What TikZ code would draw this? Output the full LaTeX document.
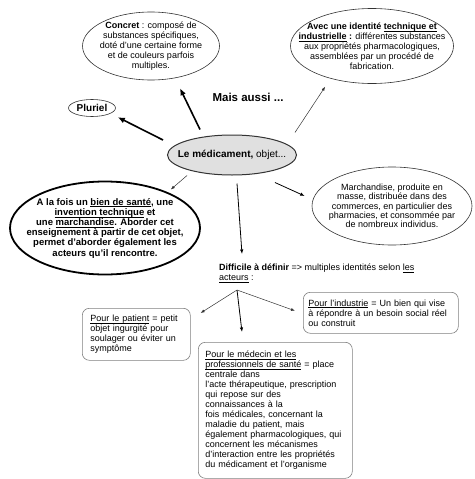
\documentclass[tikz,border=0pt]{standalone}
\usepackage{fontspec}
\setmainfont{Liberation Sans}
\usetikzlibrary{shapes.geometric, arrows.meta, positioning}
\newcommand\souligne[1]{\leavevmode\setbox0=\hbox{#1}\rlap{\rule[-1.8pt]{\wd0}{0.5pt}}\box0\relax}

\begin{document}
\begin{tikzpicture}[x=1pt, y=-1pt,
    every node/.style={font=\fontsize{9}{10}\selectfont},
    bulle/.style={ellipse, draw=black!80, line width=0.6pt, align=center, inner xsep=-30pt, inner ysep=-10pt},
    cadre/.style={rectangle, rounded corners=7pt, draw=black!50, line width=0.6pt, align=left, anchor=north west},
    grosse/.style={line width=1.6pt, -{Latex[length=7pt,width=6pt]}},
    fine/.style={line width=0.5pt, draw=black!80, -{Latex[length=4pt,width=3pt]}},
    moyenne/.style={line width=0.8pt, -{Latex[length=4.5pt,width=3.5pt]}}]
        \useasboundingbox (0,0) rectangle (474,479);
        \node[bulle, minimum width=137pt, minimum height=68pt] (concret) at (151,46)
            {\textbf{Concret} : composé de\\ substances spécifiques,\\ doté d'une certaine forme\\ et de couleurs parfois\\ multiples.};
        \node[bulle, minimum width=163pt, minimum height=75pt] (technique) at (372,46)
            {\textbf{Avec une identité \souligne{technique et}}\\ \textbf{\souligne{industrielle} :} différentes substances\\ aux propriétés pharmacologiques,\\ assemblées par un procédé de\\ fabrication.};
        \node[bulle, minimum width=47pt, minimum height=17pt, font=\fontsize{10}{12}\selectfont\bfseries] (pluriel) at (92,108) {Pluriel};
        \node[font=\fontsize{11.5}{13}\selectfont\bfseries] (mais) at (248,97) {Mais aussi ...};
        \node[bulle, fill=black!12, line width=1pt, minimum width=129pt, minimum height=40pt, font=\fontsize{10}{12}\selectfont] (med) at (232,155)
            {\textbf{Le médicament,} objet...};
        \node[bulle, draw=black, line width=1.8pt, minimum width=190pt, minimum height=93pt, font=\fontsize{9.5}{10.2}\selectfont\bfseries] (alafois) at (105,228)
            {A la fois un \souligne{bien de santé}, une\\ \souligne{invention technique} et\\ une \souligne{marchandise}. Aborder cet\\ enseignement à partir de cet objet,\\ permet d’aborder également les\\ acteurs qu’il rencontre.};
        \node[bulle, minimum width=160pt, minimum height=78pt, font=\fontsize{9}{9.3}\selectfont] (marchandise) at (392,206)
            {Marchandise, produite en\\ masse, distribuée dans des\\ commerces, en particulier des\\ pharmacies, et consommée par\\ de nombreux individus.};
        \node[anchor=north west, inner sep=0pt, align=left] (difficile) at (219,264)
            {\textbf{Difficile à définir} => multiples identités selon \souligne{les}\\ \souligne{acteurs} :};
        \coordinate (split) at ([shift={(18,26)}]difficile.north west);
        \node[cadre, minimum width=108pt, minimum height=52pt, text width=92pt, inner xsep=8pt] (patient) at (82,308)
            {\souligne{Pour le patient} = petit\\ objet ingurgité pour\\ soulager ou éviter un\\ symptôme};
        \node[cadre, minimum width=155pt, minimum height=41pt, text width=145pt, inner xsep=5pt] (industrie) at (303,292)
            {\souligne{Pour l'industrie} = Un bien qui vise\\ à répondre à un besoin social réel\\ ou construit};
        \node[cadre, minimum width=154pt, minimum height=136pt, text width=140pt, inner xsep=7pt] (medecin) at (198,342)
            {\souligne{Pour le médecin et les}\\ \souligne{professionnels de santé} = place\\ centrale dans\\ l'acte thérapeutique, prescription\\ qui repose sur des\\ connaissances à la\\ fois médicales, concernant la\\ maladie du patient, mais\\ également pharmacologiques, qui\\ concernent les mécanismes\\ d'interaction entre les propriétés\\ du médicament et l'organisme};
        \draw[grosse] ([shift={(-32,-5)}]med.north) -- ([shift={(29,8)}]concret.south);
        \draw[grosse] ([shift={(-4,-15)}]med.west) -- ([shift={(9,3)}]pluriel.south east);
        \draw[fine] ([shift={(17,-8)}]med.north east) -- ([shift={(11,14)}]technique.south west);
        \draw[fine] ([shift={(1,6)}]med.south west) -- ([shift={(-2,-5)}]alafois.north east);
        \draw[moyenne] ([shift={(-3,13)}]med.south east) -- ([shift={(-7,-10)}]marchandise.west);
        \draw[moyenne] ([shift={(5,8)}]med.south) -- ([shift={(23,-10)}]difficile.north west);
        \draw[fine] (split) -- ([shift={(10,5)}]patient.north east);
        \draw[fine] (split) -- ([shift={(-8,-2)}]industrie.west);
        \draw[moyenne] (split) -- ([shift={(44,-10)}]medecin.north west);
\end{tikzpicture}
\end{document}
